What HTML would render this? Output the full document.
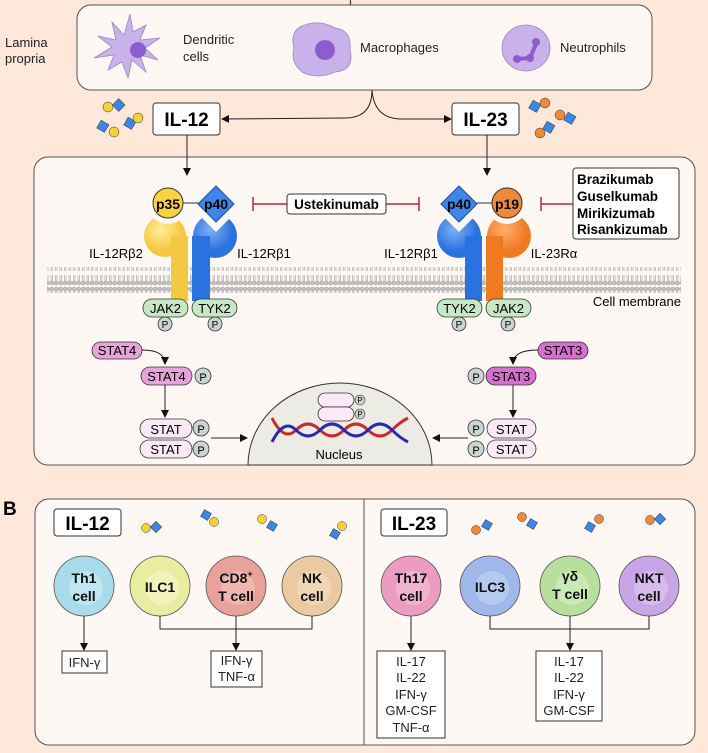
<!DOCTYPE html>
<html><head><meta charset="utf-8"><style>
html,body{margin:0;padding:0;background:#fde8da;}
svg{display:block;font-family:"Liberation Sans",sans-serif;}
</style></head><body>
<svg width="708" height="753" viewBox="0 0 708 753" xmlns="http://www.w3.org/2000/svg">
<defs>
<pattern id="mem" x="0" y="0" width="4.5" height="26" patternUnits="userSpaceOnUse">
<circle cx="2.2" cy="3" r="2" fill="#c4c4c4" stroke="#999" stroke-width="0.5"/>
<line x1="1.5" y1="5" x2="1.5" y2="11" stroke="#aaa" stroke-width="0.7"/>
<line x1="3" y1="5" x2="3" y2="11" stroke="#aaa" stroke-width="0.7"/>
<line x1="1.5" y1="15" x2="1.5" y2="21" stroke="#aaa" stroke-width="0.7"/>
<line x1="3" y1="15" x2="3" y2="21" stroke="#aaa" stroke-width="0.7"/>
<circle cx="2.2" cy="23" r="2" fill="#c4c4c4" stroke="#999" stroke-width="0.5"/>
</pattern>
<marker id="ar" markerWidth="8" markerHeight="8" refX="7" refY="4" orient="auto" markerUnits="userSpaceOnUse"><path d="M0,0 L8,4 L0,8 Z" fill="#111"/></marker>
<radialGradient id="gY" cx="0.4" cy="0.35"><stop offset="0" stop-color="#ffef9a"/><stop offset="1" stop-color="#f5c842"/></radialGradient>
<radialGradient id="gB" cx="0.4" cy="0.35"><stop offset="0" stop-color="#7fb0f5"/><stop offset="1" stop-color="#2a72e0"/></radialGradient>
<radialGradient id="gO" cx="0.4" cy="0.35"><stop offset="0" stop-color="#ffb070"/><stop offset="1" stop-color="#f07a22"/></radialGradient>
</defs>

<path d="M350,0 Q352,4 348,6" stroke="#222" fill="none"/>
<rect x="77" y="5" width="575" height="85" rx="14" fill="#fdf8f4" stroke="#555" stroke-width="1"/>
<text x="5" y="47" font-size="13" fill="#222">Lamina</text>
<text x="5" y="63" font-size="13" fill="#222">propria</text>
<g fill="#c9b2ea" stroke="#9b85c8" stroke-width="0.8">
<path d="M130,14 L133,32 L146,25 L140,40 L160,38 L145,48 L158,60 L140,55 L146,72 L132,60 L128,78 L122,62 L108,70 L114,55 L94,58 L112,47 L98,36 L116,40 L112,22 L124,35 Z"/>
</g>
<ellipse cx="138" cy="50" rx="8" ry="8" fill="#8d5dd0"/>
<text x="183" y="44" font-size="13" fill="#222">Dendritic</text>
<text x="183" y="61" font-size="13" fill="#222">cells</text>
<path d="M300,27 Q318,18 335,28 Q352,30 350,50 Q355,70 335,72 Q318,80 302,72 Q290,62 294,48 Q290,33 300,27 Z" fill="#c9b2ea" stroke="#9b85c8" stroke-width="0.8"/>
<circle cx="325" cy="50" r="10" fill="#8d5dd0"/>
<text x="360" y="52" font-size="13" fill="#222">Macrophages</text>
<ellipse cx="526" cy="48" rx="24" ry="23" fill="#c9b2ea" stroke="#9b85c8" stroke-width="0.8"/>
<path d="M517,59 L530,58 L536,44" stroke="#8d5dd0" stroke-width="4" fill="none" stroke-linecap="round"/>
<circle cx="517" cy="59" r="4" fill="#8d5dd0"/><circle cx="530" cy="58" r="4" fill="#8d5dd0"/><circle cx="536" cy="42" r="4" fill="#8d5dd0"/>
<text x="560" y="52" font-size="13" fill="#222">Neutrophils</text>

<path d="M372,90 Q372,118 345,118 L222,119" stroke="#222" fill="none" marker-end="url(#ar)"/>
<path d="M372,90 Q374,118 400,119 L451,119" stroke="#222" fill="none" marker-end="url(#ar)"/>
<rect x="153" y="103" width="67" height="32" rx="3" fill="#fff" stroke="#333"/>
<text x="186.5" y="126" font-size="19" font-weight="bold" text-anchor="middle">IL-12</text>
<rect x="452" y="103" width="67" height="32" rx="3" fill="#fff" stroke="#333"/>
<text x="485.5" y="126" font-size="19" font-weight="bold" text-anchor="middle">IL-23</text>
<g stroke="#333" stroke-width="0.5">
<circle cx="108" cy="107" r="5" fill="#f5d13a"/><rect x="114" y="100" width="9" height="9" fill="#3b86e6" transform="rotate(45 118 105)"/>
<rect x="98" y="122" width="9" height="9" fill="#3b86e6" transform="rotate(30 103 127)"/><circle cx="114" cy="132" r="5" fill="#f5d13a"/>
<rect x="125" y="119" width="9" height="9" fill="#3b86e6" transform="rotate(30 130 124)"/><circle cx="138" cy="118" r="5" fill="#f5d13a"/>
<rect x="530" y="102" width="9" height="9" fill="#3b86e6" transform="rotate(30 535 107)"/><circle cx="545" cy="103" r="5" fill="#f08a3a"/>
<circle cx="560" cy="115" r="5" fill="#f08a3a"/><rect x="565" y="114" width="9" height="9" fill="#3b86e6" transform="rotate(30 570 119)"/>
<rect x="544" y="123" width="9" height="9" fill="#3b86e6" transform="rotate(30 549 128)"/><circle cx="540" cy="133" r="5" fill="#f08a3a"/>
</g>

<rect x="34" y="157" width="661" height="308" rx="14" fill="#fdf8f4" stroke="#555"/>
<line x1="187" y1="135" x2="187" y2="175" stroke="#222" marker-end="url(#ar)"/>
<line x1="487" y1="135" x2="487" y2="175" stroke="#222" marker-end="url(#ar)"/>
<rect x="47" y="267" width="634" height="26" fill="url(#mem)"/>

<circle cx="165" cy="236" r="21" fill="url(#gY)"/>
<rect x="171" y="236" width="17" height="65" fill="#f5c842"/>
<circle cx="215" cy="236" r="22" fill="url(#gB)"/>
<rect x="192" y="236" width="18" height="65" fill="#2a72e0"/>
<circle cx="168" cy="203" r="21" fill="#fdf8f4"/>
<path d="M216,178 L243,205 L216,232 L189,205 Z" fill="#fdf8f4"/>
<line x1="183" y1="203" x2="200" y2="203" stroke="#333"/>
<circle cx="168" cy="203" r="15" fill="#f7d340" stroke="#333"/>
<text x="168" y="209" font-size="14" font-weight="bold" text-anchor="middle">p35</text>
<path d="M216,186 L234,204 L216,222 L198,204 Z" fill="#3b86e6" stroke="#1f4f99"/>
<text x="216" y="209" font-size="14" font-weight="bold" text-anchor="middle">p40</text>
<text x="116" y="258" font-size="13" text-anchor="middle">IL-12Rβ2</text>
<text x="264" y="258" font-size="13" text-anchor="middle">IL-12Rβ1</text>
<rect x="143" y="299" width="45" height="18" rx="9" fill="#c7e8c4" stroke="#333" stroke-width="0.8"/>
<text x="165.5" y="313" font-size="13" text-anchor="middle">JAK2</text>
<rect x="192" y="299" width="45" height="18" rx="9" fill="#c7e8c4" stroke="#333" stroke-width="0.8"/>
<text x="214.5" y="313" font-size="13" text-anchor="middle">TYK2</text>
<g font-size="10" text-anchor="middle">
<circle cx="165" cy="324" r="7" fill="#ccd3d3" stroke="#333" stroke-width="0.8"/><text x="165" y="328">P</text>
<circle cx="215" cy="324" r="7" fill="#ccd3d3" stroke="#333" stroke-width="0.8"/><text x="215" y="328">P</text>
</g>

<g stroke="#c0262c" stroke-width="1.5">
<line x1="253" y1="204" x2="287" y2="204"/><line x1="253" y1="197" x2="253" y2="211"/>
<line x1="386" y1="204" x2="419" y2="204"/><line x1="419" y1="197" x2="419" y2="211"/>
<line x1="541" y1="204" x2="573" y2="204"/><line x1="541" y1="197" x2="541" y2="211"/>
</g>
<rect x="287" y="194" width="99" height="20" rx="3" fill="#fff" stroke="#333"/>
<text x="336.5" y="209" font-size="13.5" font-weight="bold" text-anchor="middle">Ustekinumab</text>
<rect x="573" y="168" width="106" height="71" rx="3" fill="#fff" stroke="#333"/>
<g font-size="13.5" font-weight="bold"><text x="577" y="184">Brazikumab</text><text x="577" y="201">Guselkumab</text><text x="577" y="218">Mirikizumab</text><text x="577" y="234">Risankizumab</text></g>

<circle cx="459" cy="236" r="22" fill="url(#gB)"/>
<rect x="465" y="236" width="17" height="65" fill="#2a72e0"/>
<circle cx="509" cy="236" r="22" fill="url(#gO)"/>
<rect x="486" y="236" width="17" height="65" fill="#f07a22"/>
<path d="M459,178 L486,205 L459,232 L432,205 Z" fill="#fdf8f4"/>
<circle cx="507" cy="203" r="21" fill="#fdf8f4"/>
<line x1="476" y1="203" x2="492" y2="203" stroke="#333"/>
<path d="M459,186 L477,204 L459,222 L441,204 Z" fill="#3b86e6" stroke="#1f4f99"/>
<text x="459" y="209" font-size="14" font-weight="bold" text-anchor="middle">p40</text>
<circle cx="507" cy="203" r="15" fill="#f08a3a" stroke="#333"/>
<text x="507" y="209" font-size="14" font-weight="bold" text-anchor="middle">p19</text>
<text x="411" y="258" font-size="13" text-anchor="middle">IL-12Rβ1</text>
<text x="554" y="258" font-size="13" text-anchor="middle">IL-23Rα</text>
<text x="681" y="306" font-size="13" text-anchor="end">Cell membrane</text>
<rect x="437" y="299" width="45" height="18" rx="9" fill="#c7e8c4" stroke="#333" stroke-width="0.8"/>
<text x="459.5" y="313" font-size="13" text-anchor="middle">TYK2</text>
<rect x="486" y="299" width="45" height="18" rx="9" fill="#c7e8c4" stroke="#333" stroke-width="0.8"/>
<text x="508.5" y="313" font-size="13" text-anchor="middle">JAK2</text>
<g font-size="10" text-anchor="middle">
<circle cx="459" cy="324" r="7" fill="#ccd3d3" stroke="#333" stroke-width="0.8"/><text x="459" y="328">P</text>
<circle cx="508" cy="324" r="7" fill="#ccd3d3" stroke="#333" stroke-width="0.8"/><text x="508" y="328">P</text>
</g>

<g font-size="13" text-anchor="middle">
<rect x="92" y="342" width="50" height="17" rx="8.5" fill="#e8a3dc" stroke="#333" stroke-width="0.8"/><text x="117" y="355">STAT4</text>
<path d="M142,350 Q165,350 165,364" stroke="#222" fill="none" marker-end="url(#ar)"/>
<rect x="141" y="367" width="51" height="18" rx="9" fill="#e8a3dc" stroke="#333" stroke-width="0.8"/><text x="166.5" y="381">STAT4</text>
<circle cx="203" cy="376" r="8" fill="#ccd3d3" stroke="#333" stroke-width="0.8"/><text x="203" y="381" font-size="11">P</text>
<line x1="165" y1="385" x2="165" y2="417" stroke="#222" marker-end="url(#ar)"/>
<rect x="140" y="419" width="52" height="19" rx="9.5" fill="#fbeaf6" stroke="#333" stroke-width="0.8"/><text x="166" y="434">STAT</text>
<rect x="140" y="440" width="52" height="18" rx="9" fill="#fbeaf6" stroke="#333" stroke-width="0.8"/><text x="166" y="454">STAT</text>
<circle cx="201" cy="428" r="8" fill="#ccd3d3" stroke="#333" stroke-width="0.8"/><text x="201" y="433" font-size="11">P</text>
<circle cx="201" cy="449" r="8" fill="#ccd3d3" stroke="#333" stroke-width="0.8"/><text x="201" y="454" font-size="11">P</text>
<line x1="211" y1="438" x2="247" y2="438" stroke="#222" marker-end="url(#ar)"/>
</g>
<g font-size="13" text-anchor="middle">
<rect x="538" y="342" width="50" height="17" rx="8.5" fill="#d86fcf" stroke="#333" stroke-width="0.8"/><text x="563" y="355">STAT3</text>
<path d="M538,350 Q513,350 513,364" stroke="#222" fill="none" marker-end="url(#ar)"/>
<rect x="486" y="367" width="50" height="18" rx="9" fill="#d86fcf" stroke="#333" stroke-width="0.8"/><text x="511" y="381">STAT3</text>
<circle cx="476" cy="376" r="8" fill="#ccd3d3" stroke="#333" stroke-width="0.8"/><text x="476" y="381" font-size="11">P</text>
<line x1="513" y1="385" x2="513" y2="417" stroke="#222" marker-end="url(#ar)"/>
<rect x="487" y="419" width="49" height="19" rx="9.5" fill="#fbeaf6" stroke="#333" stroke-width="0.8"/><text x="511.5" y="434">STAT</text>
<rect x="487" y="440" width="49" height="18" rx="9" fill="#fbeaf6" stroke="#333" stroke-width="0.8"/><text x="511.5" y="454">STAT</text>
<circle cx="476" cy="428" r="8" fill="#ccd3d3" stroke="#333" stroke-width="0.8"/><text x="476" y="433" font-size="11">P</text>
<circle cx="476" cy="449" r="8" fill="#ccd3d3" stroke="#333" stroke-width="0.8"/><text x="476" y="454" font-size="11">P</text>
<line x1="468" y1="438" x2="433" y2="438" stroke="#222" marker-end="url(#ar)"/>
</g>
<path d="M248,465 A92,82 0 0 1 432,465 Z" fill="#ecebe4" stroke="#333"/>
<path d="M272,418 Q284,442 296,430 Q308,418 320,430 Q332,442 344,430 Q356,418 368,430 Q380,442 392,430 Q400,422 408,418" stroke="#cc2a2a" stroke-width="3" fill="none"/>
<path d="M272,442 Q284,418 296,430 Q308,442 320,430 Q332,418 344,430 Q356,442 368,430 Q380,418 392,430 Q400,438 408,442" stroke="#2a2ab0" stroke-width="3" fill="none"/>
<rect x="318" y="393" width="36" height="14" rx="7" fill="#fbeaf6" stroke="#333" stroke-width="0.8"/>
<rect x="318" y="407" width="36" height="14" rx="7" fill="#fbeaf6" stroke="#333" stroke-width="0.8"/>
<g font-size="8" text-anchor="middle"><circle cx="360" cy="400" r="5" fill="#ccd3d3" stroke="#333" stroke-width="0.6"/><text x="360" y="403">P</text>
<circle cx="360" cy="414" r="5" fill="#ccd3d3" stroke="#333" stroke-width="0.6"/><text x="360" y="417">P</text></g>
<text x="339" y="459" font-size="13" text-anchor="middle">Nucleus</text>

<text x="3" y="515" font-size="19" font-weight="bold">B</text>
<rect x="35" y="499" width="660" height="246" rx="14" fill="#fdf8f4" stroke="#555"/>
<line x1="364" y1="499" x2="364" y2="745" stroke="#555"/>
<rect x="54" y="509" width="67" height="27" rx="3" fill="#fff" stroke="#333"/>
<text x="87.5" y="530" font-size="19" font-weight="bold" text-anchor="middle">IL-12</text>
<rect x="381" y="509" width="66" height="27" rx="3" fill="#fff" stroke="#333"/>
<text x="414" y="530" font-size="19" font-weight="bold" text-anchor="middle">IL-23</text>
<g stroke="#333" stroke-width="0.5">
<circle cx="146" cy="528" r="4.5" fill="#f5d13a"/><rect x="152" y="523" width="8" height="8" fill="#3b86e6" transform="rotate(45 156 527)"/>
<rect x="202" y="511" width="8" height="8" fill="#3b86e6" transform="rotate(30 206 515)"/><circle cx="214" cy="522" r="4.5" fill="#f5d13a"/>
<circle cx="262" cy="519" r="4.5" fill="#f5d13a"/><rect x="268" y="522" width="8" height="8" fill="#3b86e6" transform="rotate(30 272 526)"/>
<rect x="331" y="530" width="8" height="8" fill="#3b86e6" transform="rotate(30 335 534)"/><circle cx="342" cy="526" r="4.5" fill="#f5d13a"/>
<circle cx="476" cy="530" r="4.5" fill="#f08a3a"/><rect x="483" y="521" width="8" height="8" fill="#3b86e6" transform="rotate(30 487 525)"/>
<circle cx="522" cy="517" r="4.5" fill="#f08a3a"/><rect x="528" y="520" width="8" height="8" fill="#3b86e6" transform="rotate(30 532 524)"/>
<rect x="586" y="523" width="8" height="8" fill="#3b86e6" transform="rotate(30 590 527)"/><circle cx="599" cy="519" r="4.5" fill="#f08a3a"/>
<circle cx="650" cy="520" r="4.5" fill="#f08a3a"/><rect x="656" y="515" width="8" height="8" fill="#3b86e6" transform="rotate(45 660 519)"/>
</g>
<g stroke="#555" stroke-width="0.8">
<circle cx="84" cy="586" r="30" fill="#a9dcea"/><circle cx="86" cy="588" r="17" fill="#bfe6f1" stroke="none"/>
<circle cx="160" cy="586" r="30" fill="#e9eda0"/><circle cx="162" cy="588" r="17" fill="#f1f3bd" stroke="none"/>
<circle cx="236" cy="586" r="30" fill="#e9a29a"/><circle cx="238" cy="588" r="17" fill="#eeb6ae" stroke="none"/>
<circle cx="312" cy="586" r="30" fill="#ebcaa2"/><circle cx="314" cy="588" r="17" fill="#f0d6b6" stroke="none"/>
<circle cx="411" cy="586" r="30" fill="#ec9cc0"/><circle cx="413" cy="588" r="17" fill="#f1b4d0" stroke="none"/>
<circle cx="490" cy="586" r="30" fill="#a0b9ea"/><circle cx="492" cy="588" r="17" fill="#b6c9ef" stroke="none"/>
<circle cx="570" cy="586" r="30" fill="#b8e09c"/><circle cx="572" cy="588" r="17" fill="#cae9b4" stroke="none"/>
<circle cx="649" cy="586" r="30" fill="#c8a5e6"/><circle cx="651" cy="588" r="17" fill="#d6bbed" stroke="none"/>
</g>
<g font-size="14" font-weight="bold" text-anchor="middle" fill="#111">
<text x="84" y="583">Th1</text><text x="84" y="601">cell</text>
<text x="160" y="592">ILC1</text>
<text x="236" y="583">CD8<tspan font-size="9" dy="-6">+</tspan></text><text x="236" y="601">T cell</text>
<text x="312" y="583">NK</text><text x="312" y="601">cell</text>
<text x="411" y="583">Th17</text><text x="411" y="601">cell</text>
<text x="490" y="592">ILC3</text>
<text x="570" y="581">γδ</text><text x="570" y="599">T cell</text>
<text x="649" y="583">NKT</text><text x="649" y="601">cell</text>
</g>
<g stroke="#222" fill="none">
<line x1="84" y1="616" x2="84" y2="650" marker-end="url(#ar)"/>
<polyline points="160,616 160,629 312,629 312,616"/>
<line x1="236" y1="616" x2="236" y2="650" marker-end="url(#ar)"/>
<line x1="411" y1="616" x2="411" y2="650" marker-end="url(#ar)"/>
<polyline points="490,616 490,629 649,629 649,616"/>
<line x1="570" y1="616" x2="570" y2="650" marker-end="url(#ar)"/>
</g>
<g font-size="13" text-anchor="middle" fill="#222">
<rect x="62" y="651" width="45" height="22" fill="#fff" stroke="#333"/><text x="84.5" y="667">IFN-γ</text>
<rect x="211" y="651" width="51" height="36" fill="#fff" stroke="#333"/><text x="236.5" y="665">IFN-γ</text><text x="236.5" y="681">TNF-α</text>
<rect x="377" y="651" width="68" height="87" fill="#fff" stroke="#333"/>
<text x="411" y="666">IL-17</text><text x="411" y="682">IL-22</text><text x="411" y="699">IFN-γ</text><text x="411" y="715">GM-CSF</text><text x="411" y="732">TNF-α</text>
<rect x="536" y="651" width="66" height="70" fill="#fff" stroke="#333"/>
<text x="569" y="666">IL-17</text><text x="569" y="682">IL-22</text><text x="569" y="699">IFN-γ</text><text x="569" y="715">GM-CSF</text>
</g>
</svg>
</body></html>
